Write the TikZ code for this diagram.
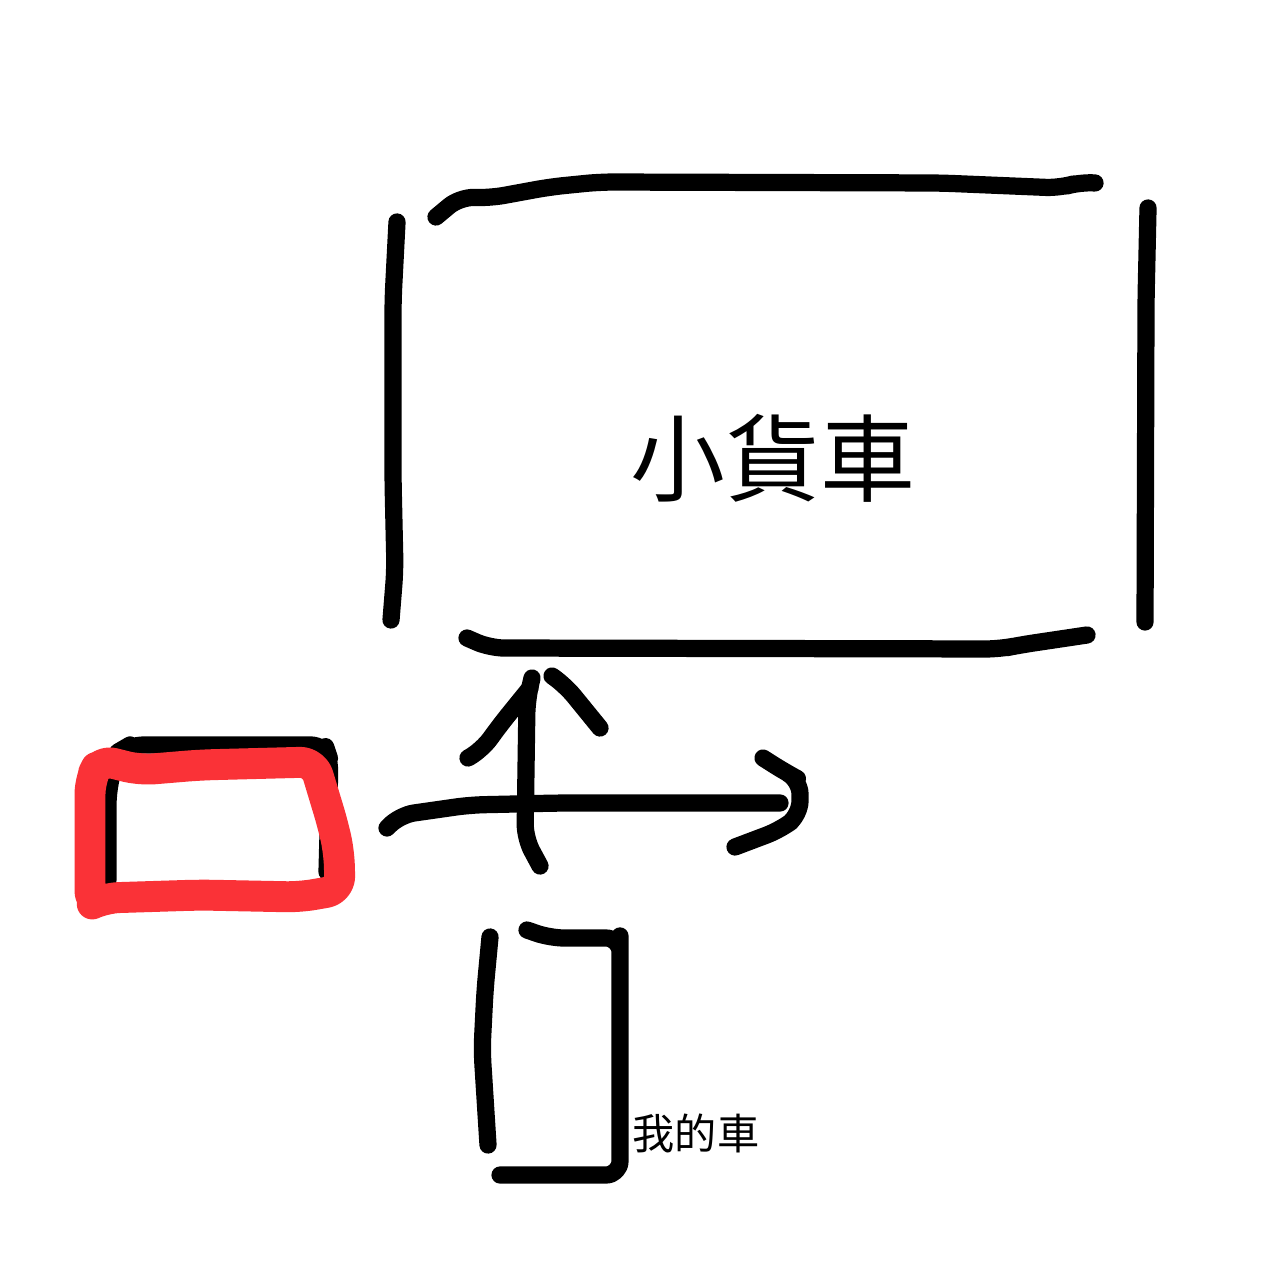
\documentclass[tikz,border=0pt]{standalone}
\usepackage{fontspec}
\newfontfamily\cjk{Noto Sans CJK TC}
\begin{document}
\begin{tikzpicture}[x=0.01cm,y=-0.01cm,
  pen/.style={line width=4.9pt,line cap=round,line join=round,rounded corners=4pt,black},
  redpen/.style={line width=8.8pt,line cap=round,line join=round,rounded corners=4pt,color={rgb,255:red,250;green,50;blue,55}},
  label/.style={inner sep=0pt,font=\cjk}]
\useasboundingbox[fill=white] (0,0) rectangle (1280,1280);
% truck
\draw[pen] (397,222) -- (393,300) -- (393,480) -- (395,570) -- (391,620);
\draw[pen] (436,217) -- (460,197) -- (490,198) -- (550,187) -- (600,182) -- (940,183) -- (1060,188) -- (1080,182) -- (1095,183);
\draw[pen] (1148,208) -- (1146,300) -- (1145,622);
\draw[pen] (467,638) -- (490,648) -- (1000,649) -- (1020,645) -- (1087,635);
\node[label,font=\cjk\fontsize{27}{32}\selectfont] (truck) at (773,458) {小貨車};
% car on the left
\draw[pen] (108,880) -- (108,790) -- (118,752) -- (130,745) -- (325,745) -- (330,760) -- (327,872);
\draw[redpen] (100,760) -- (140,770) -- (200,765) -- (314,762) -- (333,825) -- (339,852) -- (340,890) -- (300,897) -- (200,895) -- (105,898) -- (90,905) -- (90,780) -- cycle;
% moves
\draw[pen] (387,828) -- (400,815) -- (470,805) -- (560,803) -- (780,803);
\draw[pen] (763,758) -- (785,772) -- (800,780) -- (800,815) -- (780,830) -- (735,847);
\draw[pen] (540,866) -- (525,838) -- (527,700) -- (532,678);
\draw[pen] (468,758) -- (482,750) -- (500,725) -- (530,688);
\draw[pen] (552,676) -- (565,685) -- (600,728);
% my car
\draw[pen] (490,937) -- (485,990) -- (482,1050) -- (488,1145);
\draw[pen] (527,930) -- (550,938) -- (620,938) -- (620,950) -- (620,1175) -- (500,1175);
\node[label,font=\cjk\fontsize{12}{14}\selectfont,anchor=west] (mycar) at (632,1133) {我的車};
\end{tikzpicture}
\end{document}
